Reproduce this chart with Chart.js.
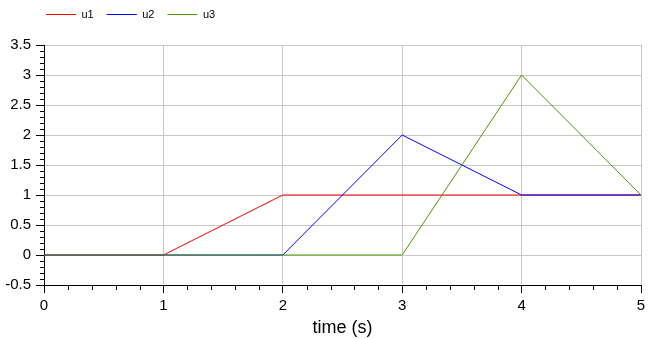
<!DOCTYPE html>
<html>
<head>
<meta charset="utf-8">
<script src="https://cdn.jsdelivr.net/npm/chart.js@4/dist/chart.umd.min.js"></script>
<style>
  html, body { margin: 0; padding: 0; background: #ffffff; }
  #wrap { width: 653px; height: 339px; position: relative; }
</style>
</head>
<body>
<div id="wrap"><canvas id="c" width="653" height="339"></canvas></div>
<script>
// ---- data ----
const times = [0, 1, 2, 3, 4, 5];
const u1 = [0, 0, 1, 1, 1, 1];
const u2 = [0, 0, 0, 2, 1, 1];
const u3 = [0, 0, 0, 0, 3, 1];
const seriesNames = ['u1', 'u2', 'u3'];
const seriesColors = ['#ff0000', '#0000ff', '#4c9900'];
const xTitle = 'time (s)';
const yMin = -0.5, yMax = 3.5, yStep = 0.5, yMinorStep = 0.1;
const xMin = 0, xMax = 5, xStep = 1, xMinorStep = 0.2;

function pts(vals) { return times.map((t, i) => ({ x: t, y: vals[i] })); }
const seriesValues = [u1, u2, u3];

const datasets = seriesValues.map((vals, i) => ({
  label: seriesNames[i],
  data: pts(vals),
  borderColor: seriesColors[i],
  backgroundColor: seriesColors[i],
  borderWidth: 1,
  pointRadius: 0,
  tension: 0,
  fill: false,
  order: seriesValues.length - i
}));

const legendPlacePlugin = {
  id: 'legendPlace',
  beforeInit(chart) {
    const orig = chart.legend.fit;
    chart.legend.fit = function () {
      orig.call(this);
      this.height = 49;
    };
  },
  afterLayout(chart) {
    chart.legend.left = 33;
  }
};

const minorTicks = {
  id: 'minorTicks',
  afterDraw(chart) {
    const ctx = chart.ctx;
    const xs = chart.scales.x, ys = chart.scales.y;
    const area = chart.chartArea;
    ctx.save();
    ctx.strokeStyle = '#000000';
    ctx.lineWidth = 1;
    ctx.beginPath();
    const ny = Math.round((yMax - yMin) / yMinorStep);
    for (let i = 0; i <= ny; i++) {
      if (i % Math.round(yStep / yMinorStep) === 0) continue;
      const v = yMin + i * yMinorStep;
      const py = Math.round(ys.getPixelForValue(v)) + 0.5;
      ctx.moveTo(area.left - 4, py);
      ctx.lineTo(area.left, py);
    }
    const nx = Math.round((xMax - xMin) / xMinorStep);
    for (let i = 0; i <= nx; i++) {
      if (i % Math.round(xStep / xMinorStep) === 0) continue;
      const v = xMin + i * xMinorStep;
      const px = Math.round(xs.getPixelForValue(v)) + 0.5;
      ctx.moveTo(px, area.bottom);
      ctx.lineTo(px, area.bottom + 5);
    }
    ctx.stroke();
    ctx.restore();
  }
};

const tickFont = { family: 'Liberation Sans', size: 15 };
const fmt = (v) => String(Math.round(v * 10) / 10);

new Chart(document.getElementById('c'), {
  type: 'line',
  data: { datasets },
  plugins: [legendPlacePlugin, minorTicks],
  options: {
    responsive: false,
    animation: false,
    layout: { padding: { left: 4, right: 12, top: -4, bottom: 0 } },
    plugins: {
      tooltip: { enabled: false },
      legend: {
        display: true,
        position: 'top',
        align: 'start',
        labels: {
          sort: (a, b) => a.datasetIndex - b.datasetIndex,
          usePointStyle: true,
          pointStyle: 'line',
          pointStyleWidth: 30,
          boxHeight: 11,
          padding: 13,
          color: '#000000',
          font: { family: 'Liberation Sans', size: 11 }
        }
      }
    },
    scales: {
      x: {
        type: 'linear',
        min: xMin, max: xMax,
        afterFit(scale) { scale.height = 54; },
        ticks: { stepSize: xStep, color: '#000000', font: tickFont, padding: 4, maxRotation: 0, callback: fmt },
        grid: { color: '#c8c8c8', tickColor: '#000000', tickLength: 8, lineWidth: 1 },
        border: { color: '#000000', width: 1 },
        title: { display: true, text: xTitle, color: '#000000', font: { family: 'Liberation Sans', size: 18 }, padding: { top: 0, bottom: 0 } }
      },
      y: {
        type: 'linear',
        min: yMin, max: yMax,
        afterFit(scale) { scale.width = 40; },
        ticks: { stepSize: yStep, color: '#000000', font: tickFont, padding: 5, callback: fmt },
        grid: { color: '#c8c8c8', tickColor: '#000000', tickLength: 8, lineWidth: 1 },
        border: { color: '#000000', width: 1 }
      }
    }
  }
});
</script>
</body>
</html>
